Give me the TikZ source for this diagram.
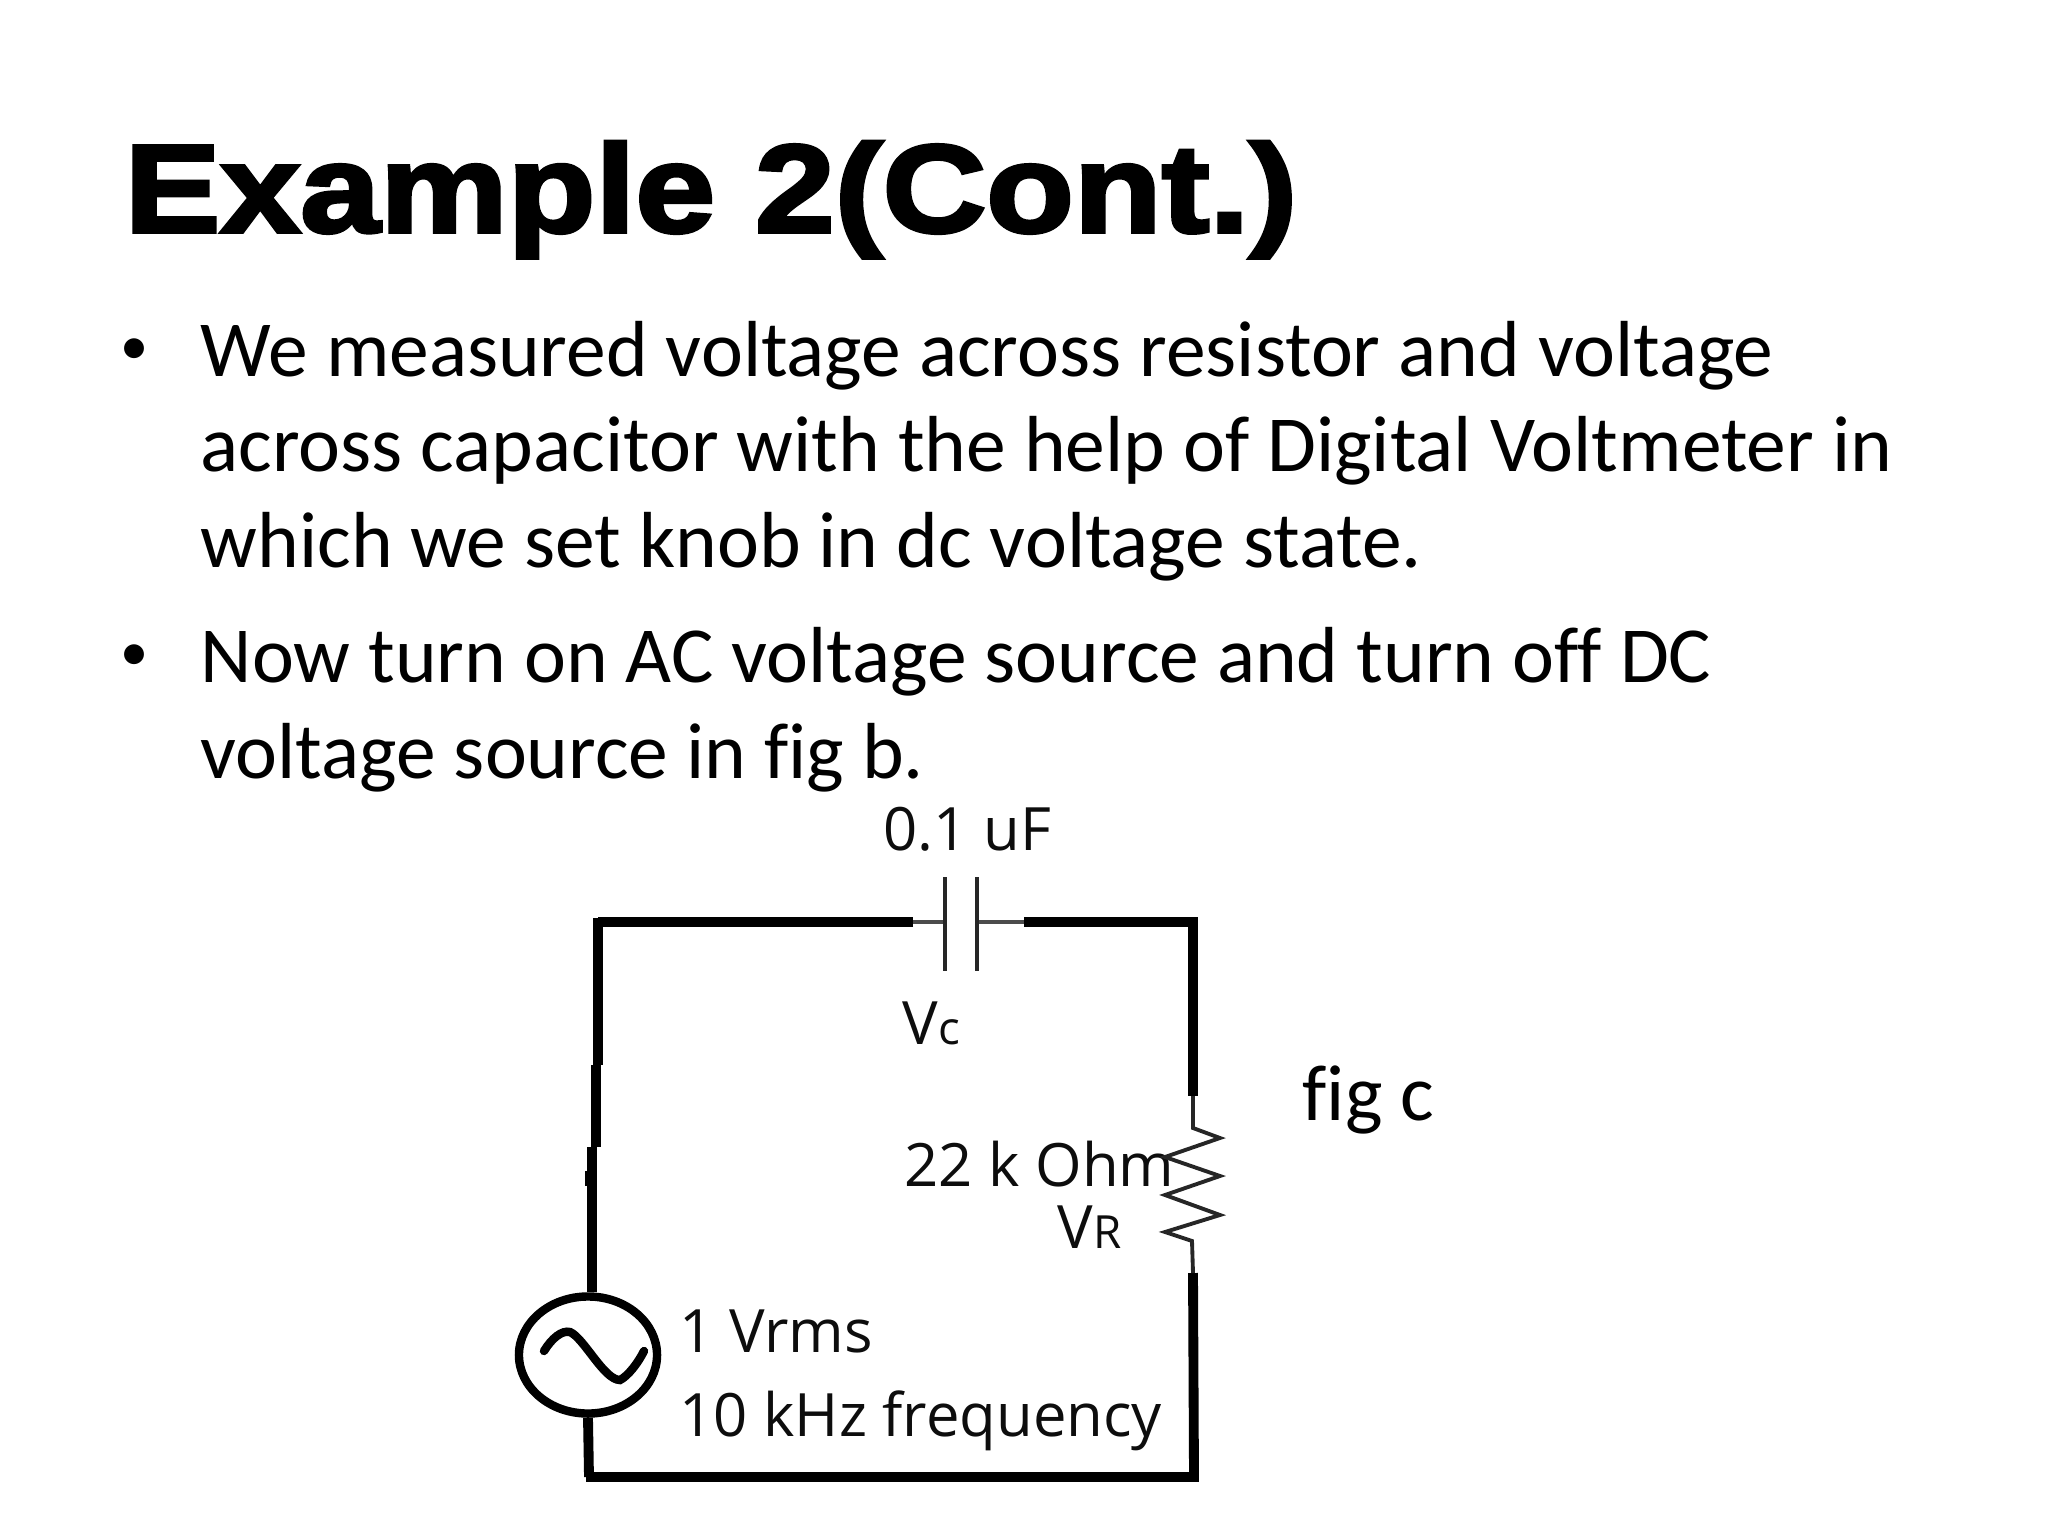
\documentclass[tikz,border=0pt]{standalone}
\usepackage{fontspec}
\usetikzlibrary{shapes.geometric}
\setmainfont[Ligatures=NoCommon]{Carlito}
\newfontfamily\titlefont[BoldFeatures={FakeBold=3,FakeStretch=1.15}]{Liberation Sans}
\newfontfamily\labelfont{Open Sans}
\tikzset{
	x=0.01cm,y=-0.01cm,
	titletext/.style={anchor=base west,inner sep=0pt,font=\titlefont\bfseries\fontsize{35.5}{35.5}\selectfont},
	bodytext/.style={anchor=base west,inner sep=0pt,font=\fontsize{22.6}{22.6}\selectfont},
	bullettext/.style={inner sep=0pt,font=\fontsize{16}{16}\selectfont},
	circuittext/.style={anchor=base west,inner sep=0pt,text=black!95,font=\labelfont\fontsize{17}{17}\selectfont},
	wire/.style={line width=2.8pt},
	lead/.style={line width=0.9pt,black!70},
	plate/.style={line width=1.2pt,black!85},
	source/.style={draw,ellipse,line width=2.4pt,minimum width=1.38cm,minimum height=1.17cm,inner sep=0pt}
}
\begin{document}
\begin{tikzpicture}
	\useasboundingbox (0,0) rectangle (2048,1536);
	% slide text
	\node[titletext] (title) at (124,232) {Example 2(Cont.)};
	\node[bullettext] (dota) at (135,352) {•};
	\node[bodytext] (linea) at (200,376) {We measured voltage across resistor and voltage};
	\node[bodytext] (lineb) at (200,471) {across capacitor with the help of Digital Voltmeter in};
	\node[bodytext] (linec) at (200,567) {which we set knob in dc voltage state.};
	\node[bullettext] (dotb) at (135,658) {•};
	\node[bodytext] (lined) at (200,682) {Now turn on AC voltage source and turn off DC};
	\node[bodytext] (linee) at (200,778) {voltage source in fig b.};
	\node[bodytext] (figc) at (1302,1120) {fig c};
	% circuit labels
	\node[circuittext] (capval) at (883,850) {0.1 uF};
	\node[circuittext] (vc) at (902,1044) {V{\fontsize{13}{13}\selectfont c}};
	\node[circuittext] (resval) at (904,1186) {22 k Ohm};
	\node[circuittext] (vr) at (1057,1248) {V{\fontsize{13}{13}\selectfont R}};
	\node[circuittext] (rms) at (679,1352) {1 Vrms};
	\node[circuittext] (freq) at (679,1436) {10 kHz frequency};
	% source
	\node[source] (src) at (588,1355) {};
	\draw[line width=2.4pt,line cap=round] (544,1351) .. controls (552,1338) and (562,1330) .. (570,1332)
		.. controls (584,1338) and (604,1380) .. (620,1380) .. controls (628,1376) and (638,1363) .. (644,1351);
	% corners and joints
	\coordinate (tl) at (598,922);
	\coordinate (tr) at (1193,922);
	\coordinate (br) at (1194,1477);
	\coordinate (bl) at (589,1477);
	\coordinate (capl) at (945,922);
	\coordinate (capr) at (977,922);
	\coordinate (wirel) at (913,922);
	\coordinate (wirer) at (1024,922);
	\coordinate (resa) at (1193,1096);
	\coordinate (resb) at (1193,1273);
	\coordinate (jointa) at (598,1065);
	\coordinate (jointb) at (596,1065);
	\coordinate (jointc) at (596,1147);
	\coordinate (jointd) at (592,1147);
	\coordinate (jointe) at (592,1292);
	% wires
	\draw[wire] (wirel) -- (tl |- wirel) (tl) ++(0,-4) -- (jointa);
	\draw[wire] (jointb) -- (jointc);
	\draw[wire] (jointd) -- (jointe);
	\draw[line width=3pt] (590,1171) -- (590,1186);
	\draw[wire] (wirer) -- (tr) -- (resa);
	\draw[wire] (resb) -- (br);
	\draw[wire] (src.south) -- (bl);
	\draw[wire] (586,1477) -- (1199,1477);
	% capacitor
	\draw[lead] (wirel) -- (capl);
	\draw[lead] (capr) -- (wirer);
	\draw[plate] (945,877) -- (capl) -- (945,971);
	\draw[plate] (977,877) -- (capr) -- (977,971);
	% resistor
	\draw[line width=1.1pt,black!85] (resa) -- (1193,1128) -- (1220,1138) -- (1165,1157) -- (1220,1176)
		-- (1165,1195) -- (1220,1215) -- (1165,1232) -- (1192,1241) -- (resb);
\end{tikzpicture}
\end{document}
